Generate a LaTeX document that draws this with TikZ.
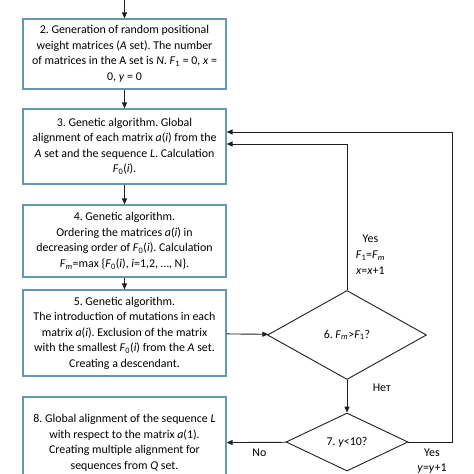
\documentclass[tikz,border=0pt]{standalone}
\usepackage{fontspec}
\setmainfont{Carlito}
\usetikzlibrary{shapes.geometric,arrows.meta}
\definecolor{boxblue}{RGB}{98,152,178}
\definecolor{linegray}{RGB}{30,30,30}
\frenchspacing

\begin{document}
\begin{tikzpicture}[x=1pt,y=-1pt,
  font=\fontsize{11.9}{15.5}\selectfont,
  >={Triangle[length=6pt,width=5pt]},
  block/.style={draw=boxblue, line width=1.2pt, fill=white,
    minimum width=203pt, inner xsep=1pt, inner ysep=2pt, align=center},
  decision/.style={draw=linegray, line width=0.9pt, diamond, inner sep=0pt, align=center},
  link/.style={->, draw=linegray, line width=0.9pt}]
\useasboundingbox (0,0) rectangle (474,474);
\clip (0,0) rectangle (474,474);

% Nodes
\coordinate (start) at (124.5,0);
\node[block, minimum height=70pt] (gen) at (124.5,54)
  {2. Generation of random positional\\ weight matrices (\textit{A} set). The number\\
   of matrices in the A set is \textit{N}. \textit{F}\textsubscript{1} = 0, \textit{x} =\\ 0, \textit{y} = 0};
\node[block, minimum height=75pt] (align) at (124.5,146.5)
  {3. Genetic algorithm. Global\\ alignment of each matrix \textit{a}(\textit{i}) from the\\
   \textit{A} set and the sequence \textit{L}. Calculation\\ \textit{F}\textsubscript{0}(\textit{i}).};
\node[block, minimum height=72pt] (order) at (124.5,241)
  {4. Genetic algorithm.\\ Ordering the matrices \textit{a}(\textit{i}) in\\
   decreasing order of \textit{F}\textsubscript{0}(\textit{i}). Calculation\\
   \textit{F}\textsubscript{\textit{m}}=max \{\textit{F}\textsubscript{0}(\textit{i}), \textit{i}=1,2, \dots, N\}.};
\node[block, minimum height=86pt] (mutate) at (124.5,333)
  {5. Genetic algorithm.\\ The introduction of mutations in each\\
   matrix \textit{a}(\textit{i}). Exclusion of the matrix\\
   with the smallest \textit{F}\textsubscript{0}(\textit{i}) from the \textit{A} set.\\
   Creating a descendant.};
\node[block, minimum height=92pt] (final) at (124.5,443)
  {8. Global alignment of the sequence \textit{L}\\ with respect to the matrix \textit{a}(1).\\
   Creating multiple alignment for\\ sequences from \textit{Q} set.};
\node[decision, minimum width=159pt, minimum height=89pt] (test) at (347,335)
  {6. \textit{F}\textsubscript{\textit{m}}>\textit{F}\textsubscript{1}?};
\node[decision, minimum width=122pt, minimum height=58pt] (count) at (347,442)
  {7. \textit{y}<10?};
\coordinate (corner) at (452,442);

% Arrows
\draw[link] (start) -- (gen);
\draw[link] (gen) -- (align);
\draw[link] (align) -- (order);
\draw[link] (order) -- (mutate);
\draw[link] (mutate) -- (test);
\draw[link] (test.north) |- (align.east |- 0,144)
  node[pos=0.12, right, xshift=5pt, align=center, font=\fontsize{11.9}{16}\selectfont]
  {Yes\\ \textit{F}\textsubscript{1}=\textit{F}\textsubscript{\textit{m}}\\ \textit{x}=\textit{x}+1};
\draw[link] (test) -- (count) node[pos=0.25, right, xshift=22pt] {Нет};
\draw[link] (count) -- (final) node[pos=0.45, below, yshift=-3pt] {No};
\draw[link] (count.east) -- (corner) |- (align.east |- 0,132);

% Labels
\node[align=center] (yeslbl) at (432,461) {Yes\\ \textit{y}=\textit{y}+1};
\end{tikzpicture}
\end{document}
